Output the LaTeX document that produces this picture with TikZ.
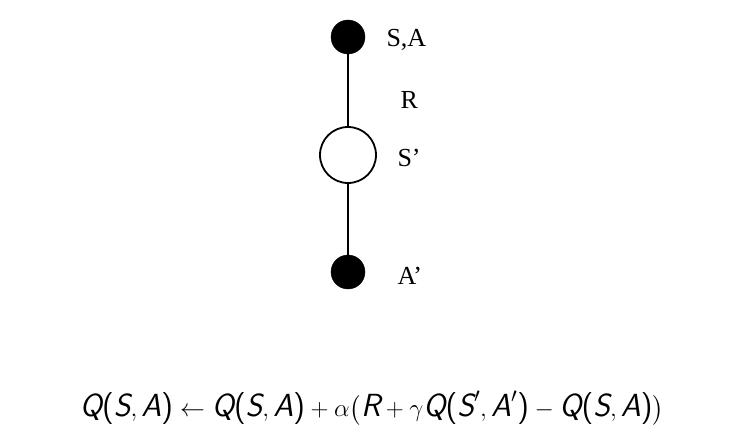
\documentclass[tikz,border=0pt]{standalone}
\usepackage{fontspec}
\newfontfamily\lab{Liberation Serif}
\newcommand{\sv}[1]{\text{\sffamily\slshape #1}}
\newcommand{\spar}[1]{\text{\sffamily #1}}
\usepackage{amsmath}
\begin{document}
\begin{tikzpicture}[x=1pt,y=-1pt,
  dot/.style={circle,fill=black,draw=black,minimum size=34pt,inner sep=0},
  hole/.style={circle,fill=white,draw=black,line width=1.8pt,minimum size=56pt,inner sep=0},
  lbl/.style={font=\lab\fontsize{26}{30}\selectfont,anchor=west}]
\useasboundingbox (0,0) rectangle (729,441);
\node[dot] (sa) at (348,37) {};
\node[hole] (s) at (348,155) {};
\node[dot] (a) at (348,272) {};
\draw[line width=2pt] (sa) -- (s);
\draw[line width=2pt] (s) -- (a);
\node[lbl] (lsa) at (383,40) {S,A};
\node[lbl] (lr) at (397,100) {R};
\node[lbl] (ls) at (394,158) {S’};
\node[lbl] (la) at (394,276) {A’};
\node (eq) at (372,408) {\fontsize{32}{38}\selectfont
$\sv{Q}\spar{(}\sv{S},\sv{A}\spar{)}\leftarrow \sv{Q}\spar{(}\sv{S},\sv{A}\spar{)}+\alpha\bigl(\sv{R}+\gamma \sv{Q}\spar{(}\sv{S}',\sv{A}'\spar{)}-\sv{Q}\spar{(}\sv{S},\sv{A}\spar{)}\bigr)$};
\end{tikzpicture}
\end{document}
